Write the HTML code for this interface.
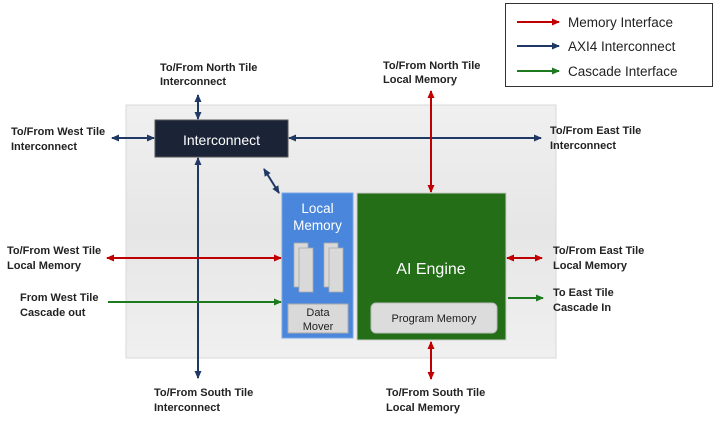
<!DOCTYPE html>
<html><head><style>
body{margin:0;background:#fff}
svg text{font-family:"Liberation Sans",sans-serif}
.l{font-size:11px;font-weight:bold;fill:#222}
</style></head><body>
<svg width="718" height="422" viewBox="0 0 718 422" xmlns="http://www.w3.org/2000/svg">
<defs>
<marker id="r" markerWidth="8" markerHeight="8" refX="7" refY="4" orient="auto-start-reverse" markerUnits="userSpaceOnUse"><path d="M0,0.5L8,4L0,7.5z" fill="#c00000"/></marker>
<marker id="b" markerWidth="8" markerHeight="8" refX="7" refY="4" orient="auto-start-reverse" markerUnits="userSpaceOnUse"><path d="M0,0.5L8,4L0,7.5z" fill="#1f3864"/></marker>
<marker id="g" markerWidth="8" markerHeight="8" refX="7" refY="4" orient="auto-start-reverse" markerUnits="userSpaceOnUse"><path d="M0,0.5L8,4L0,7.5z" fill="#1e7a1e"/></marker>
<linearGradient id="bg" x1="0" y1="0" x2="0" y2="1"><stop offset="0" stop-color="#f0f0f0"/><stop offset="0.5" stop-color="#e6e6e6"/><stop offset="1" stop-color="#f0f0f0"/></linearGradient>
</defs>
<rect x="126" y="105" width="430" height="253" fill="url(#bg)" stroke="#d8d8d8"/>
<rect x="505.5" y="3.5" width="207" height="83" fill="#fff" stroke="#333"/>
<line x1="517" y1="22" x2="559" y2="22" stroke="#c00000" stroke-width="2" marker-end="url(#r)"/>
<line x1="517" y1="46" x2="559" y2="46" stroke="#1f3864" stroke-width="2" marker-end="url(#b)"/>
<line x1="517" y1="71" x2="559" y2="71" stroke="#1e7a1e" stroke-width="2" marker-end="url(#g)"/>
<text x="568" y="27" font-size="13.5" fill="#222">Memory Interface</text>
<text x="568" y="51" font-size="13.5" fill="#222">AXI4 Interconnect</text>
<text x="568" y="76" font-size="13.5" fill="#222">Cascade Interface</text>
<g stroke="#1f3864" stroke-width="2">
<line x1="112" y1="138" x2="154" y2="138" marker-start="url(#b)" marker-end="url(#b)"/>
<line x1="289" y1="138" x2="541" y2="138" marker-start="url(#b)" marker-end="url(#b)"/>
<line x1="198" y1="95" x2="198" y2="119" marker-start="url(#b)" marker-end="url(#b)"/>
<line x1="198" y1="158" x2="198" y2="378" marker-start="url(#b)" marker-end="url(#b)"/>
<line x1="264" y1="169" x2="279" y2="193" marker-start="url(#b)" marker-end="url(#b)"/>
</g>
<g stroke="#c00000" stroke-width="2">
<line x1="431" y1="91" x2="431" y2="192" marker-start="url(#r)" marker-end="url(#r)"/>
<line x1="431" y1="342" x2="431" y2="379" marker-start="url(#r)" marker-end="url(#r)"/>
<line x1="107" y1="258" x2="281" y2="258" marker-start="url(#r)" marker-end="url(#r)"/>
<line x1="507" y1="258" x2="542" y2="258" marker-start="url(#r)" marker-end="url(#r)"/>
</g>
<g stroke="#1e7a1e" stroke-width="2">
<line x1="108" y1="302" x2="281" y2="302" marker-end="url(#g)"/>
<line x1="508" y1="298" x2="543" y2="298" marker-end="url(#g)"/>
</g>
<rect x="155" y="120" width="133" height="37" fill="#1b2436" stroke="#555"/>
<text x="221.5" y="145" font-size="14" fill="#fff" text-anchor="middle">Interconnect</text>
<rect x="282" y="193" width="71" height="145" fill="#4a86dc" stroke="#7aa6e6"/>
<text x="317.5" y="213" font-size="13.5" fill="#fff" text-anchor="middle">Local</text>
<text x="317.5" y="230" font-size="13.5" fill="#fff" text-anchor="middle">Memory</text>
<g fill="#d9d9d9" stroke="#aaa" stroke-width="0.8">
<rect x="294" y="243" width="14" height="44"/><rect x="299" y="248" width="14" height="44"/>
<rect x="324" y="243" width="14" height="44"/><rect x="329" y="248" width="14" height="44"/>
</g>
<rect x="288" y="304" width="60" height="29" fill="#d9d9d9" stroke="#aaa"/>
<text x="318" y="316" font-size="11" fill="#222" text-anchor="middle">Data</text>
<text x="318" y="330" font-size="11" fill="#222" text-anchor="middle">Mover</text>
<rect x="357" y="193" width="149" height="147" fill="#236e17" stroke="#ccc"/>
<text x="431" y="274" font-size="16" fill="#fff" text-anchor="middle">AI Engine</text>
<rect x="371" y="303" width="126" height="30" rx="5" fill="#dcdcdc" stroke="#bbb"/>
<text x="434" y="322" font-size="11" fill="#222" text-anchor="middle">Program Memory</text>
<text class="l" x="160" y="71">To/From North Tile</text><text class="l" x="160" y="85">Interconnect</text>
<text class="l" x="383" y="69">To/From North Tile</text><text class="l" x="383" y="83">Local Memory</text>
<text class="l" x="11" y="135">To/From West Tile</text><text class="l" x="11" y="150">Interconnect</text>
<text class="l" x="550" y="134">To/From East Tile</text><text class="l" x="550" y="149">Interconnect</text>
<text class="l" x="7" y="254">To/From  West Tile</text><text class="l" x="7" y="269">Local Memory</text>
<text class="l" x="553" y="254">To/From East Tile</text><text class="l" x="553" y="269">Local Memory</text>
<text class="l" x="20" y="301">From West Tile</text><text class="l" x="20" y="316">Cascade out</text>
<text class="l" x="553" y="296">To East Tile</text><text class="l" x="553" y="311">Cascade In</text>
<text class="l" x="154" y="396">To/From South Tile</text><text class="l" x="154" y="411">Interconnect</text>
<text class="l" x="386" y="396">To/From South Tile</text><text class="l" x="386" y="411">Local Memory</text>
</svg>
</body></html>
